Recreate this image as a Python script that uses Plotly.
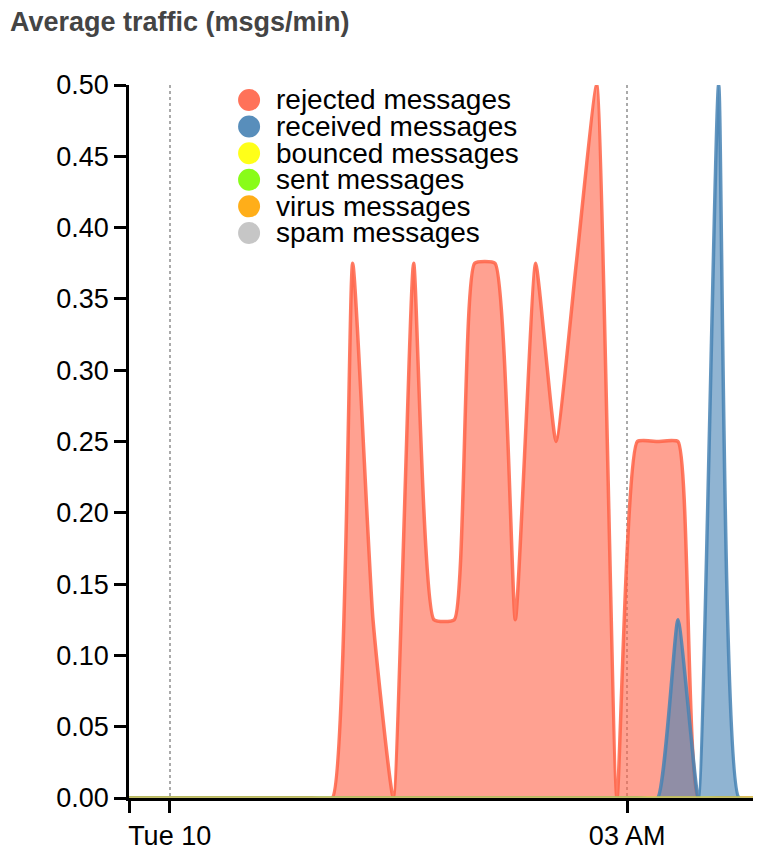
import plotly.graph_objects as go

# sample times (8 min buckets)
times = [
    "2023-10-09 23:44", "2023-10-09 23:52", "2023-10-10 00:00", "2023-10-10 00:08",
    "2023-10-10 00:16", "2023-10-10 00:24", "2023-10-10 00:32", "2023-10-10 00:40",
    "2023-10-10 00:48", "2023-10-10 00:56", "2023-10-10 01:04", "2023-10-10 01:12",
    "2023-10-10 01:20", "2023-10-10 01:28", "2023-10-10 01:36", "2023-10-10 01:44",
    "2023-10-10 01:52", "2023-10-10 02:00", "2023-10-10 02:08", "2023-10-10 02:16",
    "2023-10-10 02:24", "2023-10-10 02:32", "2023-10-10 02:40", "2023-10-10 02:48",
    "2023-10-10 02:56", "2023-10-10 03:04", "2023-10-10 03:12", "2023-10-10 03:20",
    "2023-10-10 03:28", "2023-10-10 03:36", "2023-10-10 03:44", "2023-10-10 03:52",
    "2023-10-10 04:00",
]

rejected = [0, 0, 0, 0, 0, 0, 0, 0, 0, 0, 0, 0.375, 0.125, 0, 0.375, 0.125,
            0.125, 0.375, 0.375, 0.125, 0.375, 0.25, 0.375, 0.5, 0, 0.25, 0.25, 0.25,
            0, 0, 0, 0, 0]
received = [0, 0, 0, 0, 0, 0, 0, 0, 0, 0, 0, 0, 0, 0, 0, 0,
            0, 0, 0, 0, 0, 0, 0, 0, 0, 0, 0, 0.125, 0, 0.5, 0, 0,
            0.375]
bounced = [0, 0, 0, 0, 0, 0, 0, 0, 0, 0, 0, 0, 0, 0, 0, 0, 0,
           0, 0, 0, 0, 0, 0, 0, 0, 0, 0, 0, 0, 0, 0, 0, 0]
sent = [0, 0, 0, 0, 0, 0, 0, 0, 0, 0, 0, 0, 0, 0, 0, 0, 0,
        0, 0, 0, 0, 0, 0, 0, 0, 0, 0, 0, 0, 0, 0, 0, 0]
virus = [0, 0, 0, 0, 0, 0, 0, 0, 0, 0, 0, 0, 0, 0, 0, 0, 0,
         0, 0, 0, 0, 0, 0, 0, 0, 0, 0, 0, 0, 0, 0, 0, 0]
spam = [0, 0, 0, 0, 0, 0, 0, 0, 0, 0, 0, 0, 0, 0, 0, 0, 0,
        0, 0, 0, 0, 0, 0, 0, 0, 0, 0, 0, 0, 0, 0, 0, 0]

names = ["rejected messages", "received messages", "bounced messages",
         "sent messages", "virus messages", "spam messages"]
colors = ["#FF6347", "#4682B4", "#FFFF00", "#7CFC00", "#FFA500", "#C0C0C0"]
series = [rejected, received, bounced, sent, virus, spam]

x_ticks = ["2023-10-09 23:44", "2023-10-10 00:00", "2023-10-10 03:00"]
x_ticktext = ["", "Tue 10", "03 AM"]
x_range = ["2023-10-09 23:44", "2023-10-10 03:52:40"]

FONT = "Liberation Sans, Arial, Helvetica, sans-serif"

# page has an 8px body margin, so the figure sits at (8, 8)
W, H = 753, 845
L, T, B = 121, 77, 55
PLOT_H = H - T - B

def rgba(hex_color, a):
    h = hex_color.lstrip("#")
    return "rgba(%d,%d,%d,%s)" % (int(h[0:2], 16), int(h[2:4], 16), int(h[4:6], 16), a)

fig = go.Figure()

# the two area series
for name, col, vals in zip(names[:2], colors[:2], series[:2]):
    fig.add_trace(go.Scatter(
        x=times, y=vals, name=name, mode="lines",
        line=dict(color=rgba(col, 0.85), width=3.5, shape="spline", smoothing=0.45),
        fill="tozeroy", fillcolor=rgba(col, 0.6),
        showlegend=False,
    ))

# the flat ones, all sitting on zero
for name, col, vals in zip(names[2:], colors[2:], series[2:]):
    fig.add_trace(go.Scatter(
        x=times, y=vals, name=name, mode="lines",
        line=dict(color=col, width=3), opacity=0.5,
        showlegend=False,
    ))

# hand made legend (the plotly one can't get rows this tight)
row0 = 0.979
row_gap = 26.6 / PLOT_H
for i, (name, col) in enumerate(zip(names, colors)):
    yy = row0 - i * row_gap
    fig.add_shape(type="circle", xref="paper", yref="paper",
                  xsizemode="pixel", ysizemode="pixel",
                  xanchor=0.19, yanchor=yy, x0=-11, x1=11, y0=-11, y1=11,
                  fillcolor=col, line=dict(width=0), opacity=0.9)
    fig.add_annotation(x=0.2294, y=yy, xref="paper", yref="paper",
                       text=name, showarrow=False, xanchor="left", yanchor="middle",
                       font=dict(family=FONT, size=28, color="#000"))

fig.update_layout(
    width=W, height=H,
    margin=dict(l=L, r=0, t=T, b=B),
    paper_bgcolor="white", plot_bgcolor="white",
    font=dict(family=FONT, size=27, color="#000"),
    title=dict(text="<b>Average traffic (msgs/min)</b>", x=2 / W, xanchor="left",
               y=1 - 14 / H, yanchor="middle",
               font=dict(family=FONT, size=27, color="#444")),
)

fig.update_xaxes(
    type="date", range=x_range, automargin=False,
    tickmode="array", tickvals=x_ticks, ticktext=x_ticktext,
    ticks="outside", ticklen=12, tickwidth=2.5, tickcolor="#000",
    showline=True, linecolor="#000", linewidth=3,
    showgrid=True, gridcolor="#aaa", gridwidth=2, griddash="dot",
    zeroline=False, tickfont=dict(size=27),
)
fig.update_yaxes(
    range=[0, 0.5], tick0=0, dtick=0.05, tickformat=".2f", automargin=False,
    ticks="outside", ticklen=12, tickwidth=2.5, tickcolor="#000",
    showline=True, linecolor="#000", linewidth=2.5,
    showgrid=False, zeroline=False, tickfont=dict(size=27),
)

# no scrollbars, the chart runs off the right edge like the original
fig.write_html("out.html",
               post_script="document.documentElement.style.overflow='hidden';")
